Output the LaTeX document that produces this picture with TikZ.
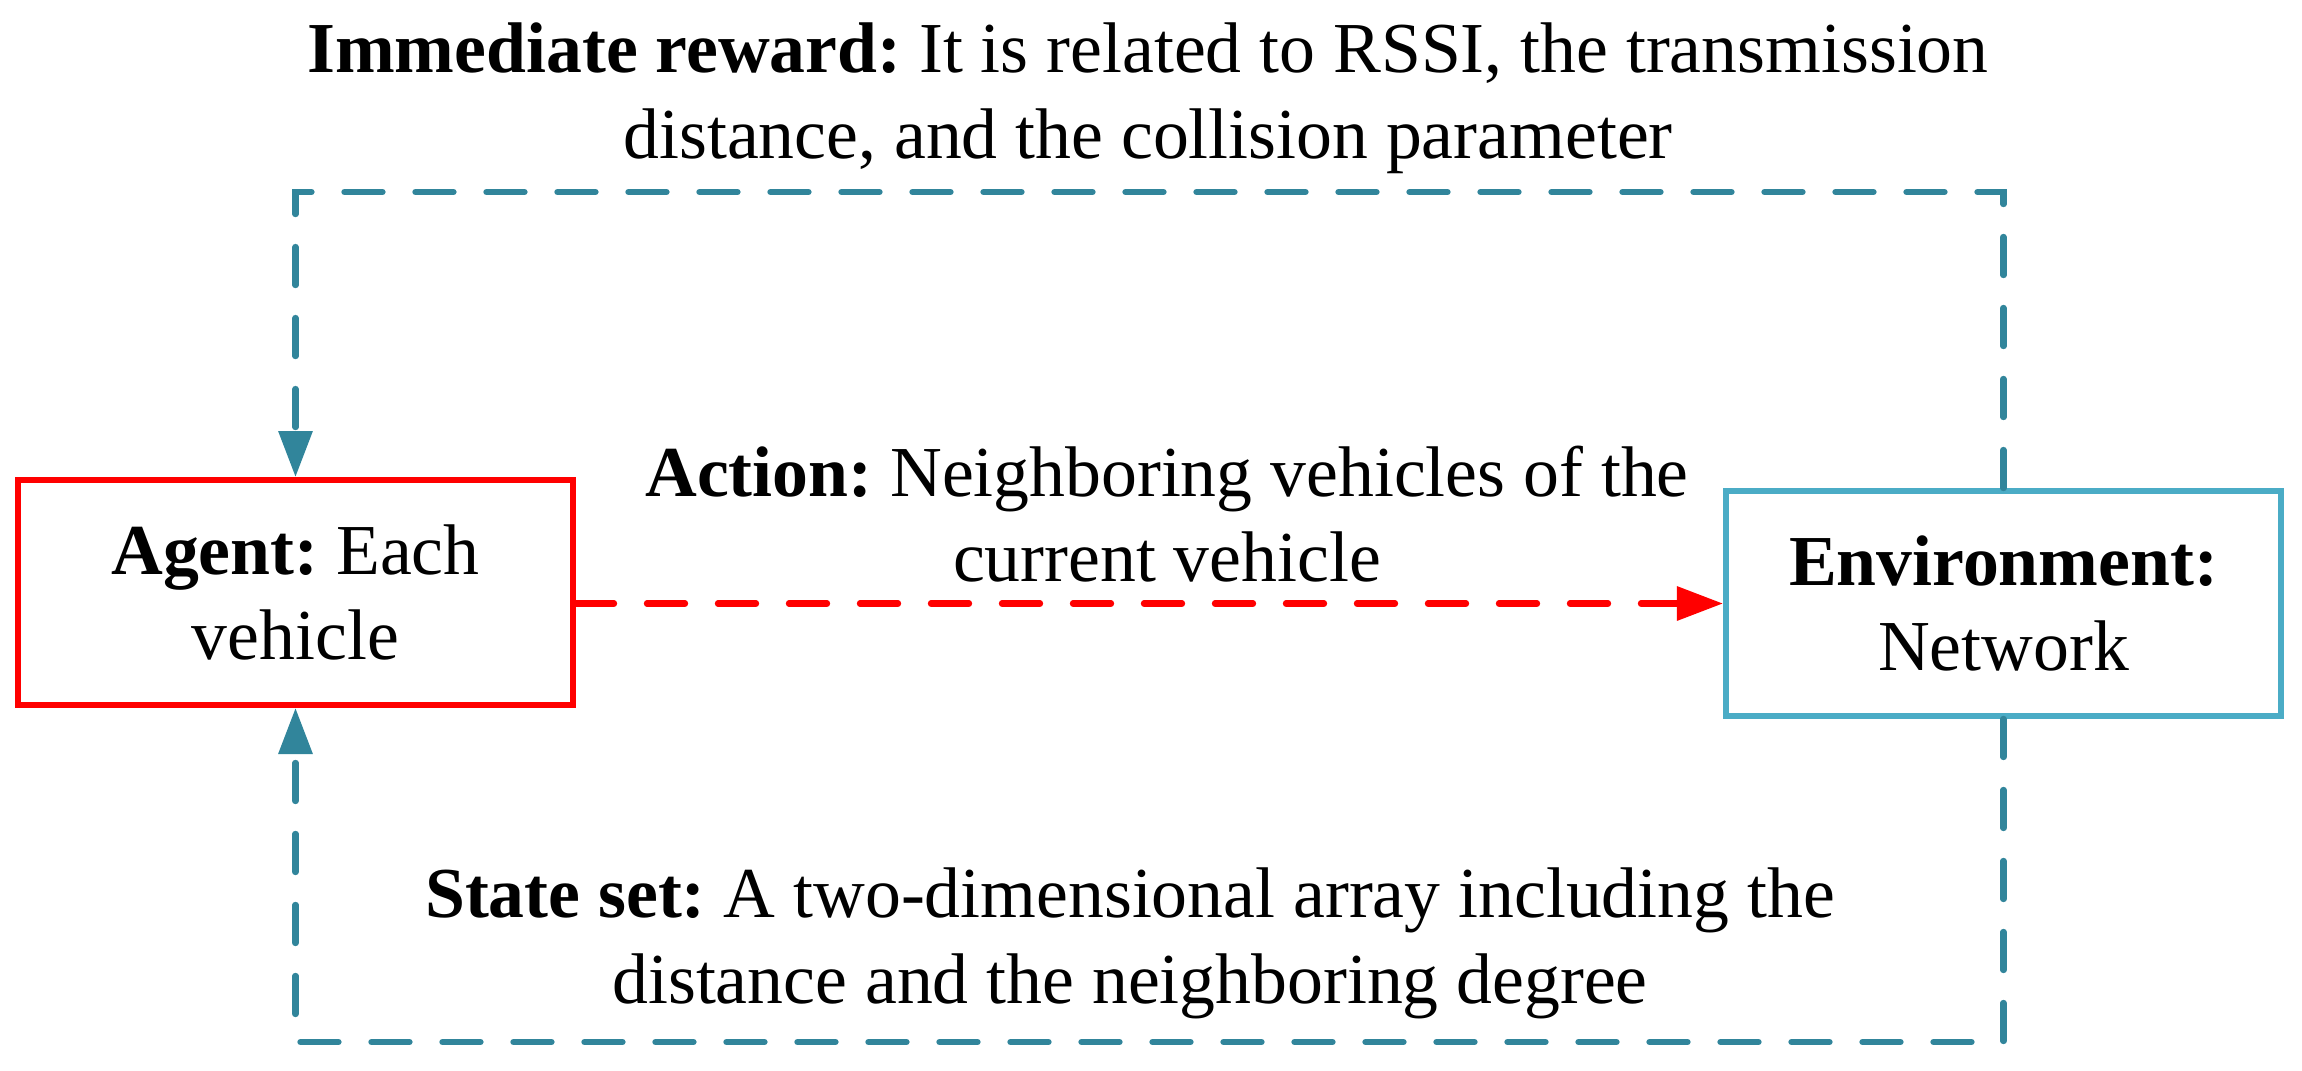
\documentclass[tikz,border=0pt]{standalone}
\usepackage{fontspec}
\setmainfont{Liberation Serif}
\usepackage{tikz}
\usetikzlibrary{positioning}
\usetikzlibrary{arrows.meta}
\definecolor{agentred}{RGB}{255,0,0}
\definecolor{envblue}{RGB}{75,172,198}
\definecolor{loopteal}{RGB}{49,133,155}
\frenchspacing
\tikzset{
    box/.style={draw, rectangle, line width=1.7pt, minimum width=5.55cm, minimum height=2.25cm, align=center},
    flow/.style={line width=1.8pt, dash pattern=on 0.38cm off 0.33cm, line cap=round},
    tip/.style={-{Triangle[length=0.46cm, width=0.33cm]}},
}

\begin{document}
\begin{tikzpicture}[font=\fontsize{20.4}{24.4}\selectfont]
        \useasboundingbox (0,0) rectangle (23.02,-10.70);

        \node[box, draw=agentred] (agent) at (2.955,-5.925) {\textbf{Agent:} Each\\vehicle};
        \node[box, draw=envblue] (env) [right=11.47cm of agent, yshift=-0.11cm] {\textbf{Environment:}\\Network};

        \node[align=center] (reward) at (11.48,-0.98) {\textbf{Immediate reward:} It is related to RSSI, the transmission\\distance, and the collision parameter};
        \node[align=center] (action) at (11.67,-5.14) {\textbf{Action:} Neighboring vehicles of the\\current vehicle};
        \node[align=center] (state) at (11.30,-9.43) {\textbf{State set:} A two-dimensional array including the\\distance and the neighboring degree};

        \coordinate (top) at (0,-1.92);
        \coordinate (bottom) at (0,-10.42);

        \begin{scope}[flow, tip, loopteal]
            \draw (env.north) -- (env.north |- top) -- (agent.north |- top) -- (agent.north);
            \draw (env.south) -- (env.south |- bottom) -- (agent.south |- bottom) -- (agent.south);
        \end{scope}

        \draw[flow, tip, agentred] (agent.east |- env.west) -- (env.west);

    \end{tikzpicture}
\end{document}
